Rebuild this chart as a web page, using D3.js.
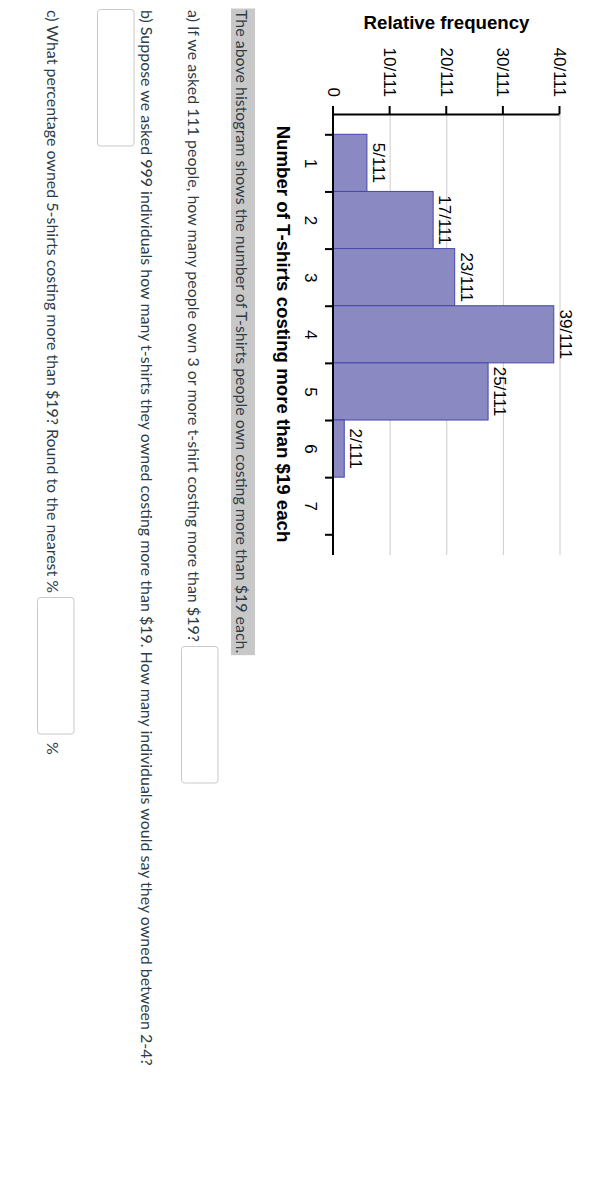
<!DOCTYPE html>
<html><head><meta charset="utf-8">
<script src="https://cdn.jsdelivr.net/npm/d3@7"></script>
<style>html,body{margin:0;padding:0;background:#fff;overflow:hidden}</style>
</head><body>
<svg id="c" width="598" height="1178"></svg>
<script>
// ---- data ----
const categories = [1, 2, 3, 4, 5, 6, 7];
const labelCounts = [5, 17, 23, 39, 25, 2];          // numerators printed on the bars (out of 111)
const barHeights = [5.9, 17.6, 21.4, 38.9, 27.3, 1.9]; // bar heights as drawn (units of 1/111)
const total = 111;
const yTicks = [0, 10, 20, 30, 40];
const yTickLabels = ["0", "10/111", "20/111", "30/111", "40/111"];
const yTitle = "Relative frequency";
const xTitle = "Number of T-shirts costing more than $19 each";
const intro = "The above histogram shows the number of T-shirts people own costing more than $19 each.";
const questions = [
  "a) If we asked 111 people, how many people own 3 or more t-shirt costing more than $19?",
  "b) Suppose we asked 999 individuals how many t-shirts they owned costing more than $19. How many individuals would say they owned between 2-4?",
  "c) What percentage owned 5-shirts costing more than $19? Round to the nearest %"
];

// ---- drawing (whole page is rotated 90deg clockwise) ----
const svg = d3.select("#c");
const g = svg.append("g").attr("transform", "translate(598,0) rotate(90)");

const x = d3.scaleLinear().domain([0.5, 7.5]).range([134.3, 534.3]);
const y = d3.scaleLinear().domain([0, 40]).range([264.5, 38]);
const axisFont = "'Liberation Sans', Arial, sans-serif";

// gridlines
g.append("g").selectAll("line").data(yTicks.filter(d => d > 0)).join("line")
  .attr("x1", 114).attr("x2", 555)
  .attr("y1", d => y(d)).attr("y2", d => y(d))
  .attr("stroke", "#cccccc").attr("stroke-width", 1);

// bars
const bars = labelCounts.map((c, i) => ({cat: categories[i], h: barHeights[i], c}));
g.append("g").selectAll("rect").data(bars).join("rect")
  .attr("x", d => x(d.cat - 0.5))
  .attr("width", d => x(d.cat + 0.5) - x(d.cat - 0.5))
  .attr("y", d => y(d.h))
  .attr("height", d => y(0) - y(d.h))
  .attr("fill", "#8a89c2").attr("stroke", "#4646ad").attr("stroke-width", 1);

// bar labels
g.append("g").selectAll("text").data(bars).join("text")
  .attr("x", d => x(d.cat)).attr("y", d => y(d.h) - 6)
  .attr("text-anchor", "middle")
  .style("font-family", axisFont).style("font-size", "17px").attr("fill", "#000")
  .text(d => d.c + "/" + total);

// y axis
const yAxis = g.append("g").attr("transform", "translate(114,0)")
  .call(d3.axisLeft(y).tickValues(yTicks).tickFormat((d, i) => yTickLabels[i])
    .tickSize(8).tickSizeOuter(0).tickPadding(9));
yAxis.select(".domain").attr("stroke", "#000").attr("stroke-width", 2);
yAxis.selectAll(".tick line").attr("stroke", "#000").attr("stroke-width", 2);
yAxis.selectAll("text").style("font-family", axisFont).style("font-size", "17px").attr("fill", "#000");

// x axis: edge ticks
const xEdges = d3.range(0.5, 8, 1);
const xAxis = g.append("g").attr("transform", "translate(0,265)")
  .call(d3.axisBottom(x).tickValues(xEdges).tickFormat("").tickSize(8).tickSizeOuter(0));
xAxis.select(".domain").remove();
xAxis.selectAll(".tick line").attr("stroke", "#000").attr("stroke-width", 2);
g.append("line").attr("x1", 114).attr("x2", 555).attr("y1", 265).attr("y2", 265)
  .attr("stroke", "#000").attr("stroke-width", 2);
// x axis: category labels
const xLab = g.append("g").attr("transform", "translate(0,265)")
  .call(d3.axisBottom(x).tickValues(categories).tickFormat(d => String(d)).tickSize(0).tickPadding(16));
xLab.select(".domain").remove();
xLab.selectAll("text").style("font-family", axisFont).style("font-size", "17px").attr("fill", "#000");

// titles
g.append("text").attr("transform", "translate(29,151.5) rotate(-90)")
  .attr("text-anchor", "middle").style("font-family", axisFont).style("font-weight", "bold")
  .style("font-size", "18.67px").text(yTitle);
g.append("text").attr("x", 334).attr("y", 321.5)
  .attr("text-anchor", "middle").style("font-family", axisFont).style("font-weight", "bold")
  .style("font-size", "18.67px").text(xTitle);

// body text
const bodyFont = "Lato, 'Open Sans', sans-serif";
const tb = g.append("text").attr("x", 10).attr("y", 457).style("font-family", bodyFont)
  .style("font-size", "16px").attr("fill", "#2d3b45").text(questions[1]);
const natural = tb.node().getComputedTextLength();
const fs = 16 * 1056 / natural;
tb.style("font-size", fs + "px");

const band = g.append("rect").attr("x", 8.5).attr("y", 343).attr("height", 24).attr("fill", "#c8c8c8");
const t0 = g.append("text").attr("x", 10).attr("y", 362).style("font-family", bodyFont)
  .style("font-size", fs + "px").attr("fill", "#2d3b45").text(intro);
band.attr("width", t0.node().getComputedTextLength() + 3.5);

g.append("text").attr("x", 10).attr("y", 410).style("font-family", bodyFont)
  .style("font-size", fs + "px").attr("fill", "#2d3b45").text(questions[0]);
g.append("text").attr("x", 10).attr("y", 551).style("font-family", bodyFont)
  .style("font-size", fs + "px").attr("fill", "#2d3b45").text(questions[2]);
g.append("text").attr("x", 742).attr("y", 551).style("font-family", bodyFont)
  .style("font-size", fs + "px").attr("fill", "#2d3b45").text("%");

// input boxes
const boxes = [[646.5, 380], [9.5, 464], [597.5, 524]];
g.append("g").selectAll("rect").data(boxes).join("rect")
  .attr("x", d => d[0]).attr("y", d => d[1]).attr("width", 136.5).attr("height", 36.5)
  .attr("rx", 3).attr("fill", "#fff").attr("stroke", "#c9c9c9").attr("stroke-width", 1);
</script>
</body></html>
